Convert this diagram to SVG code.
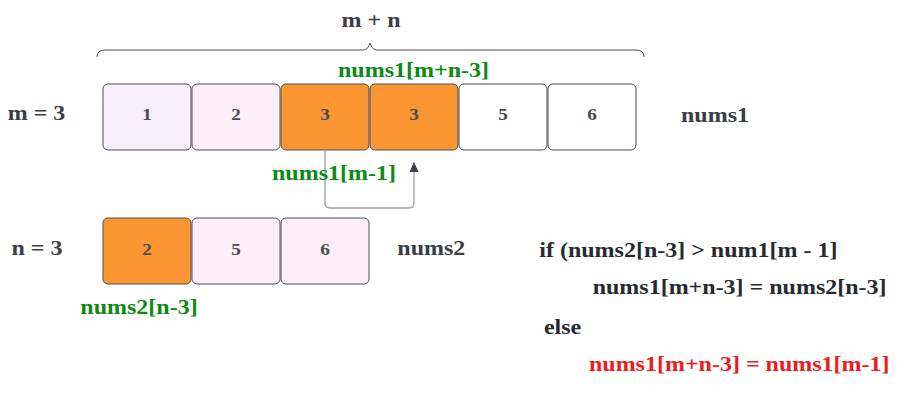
<svg xmlns="http://www.w3.org/2000/svg" width="908" height="401" viewBox="0 0 908 401">
<defs>
<style>
text{font-family:"Liberation Serif","Times New Roman",serif;font-weight:bold;}
.lbl{font-size:20px;fill:#3a3e45;text-anchor:middle;}
.code{font-size:20px;fill:#272b31;}
.green{font-size:20px;fill:#0c8a12;text-anchor:middle;}
.red{font-size:20px;fill:#ee1c1c;}
.dig{font-size:16px;fill:#474c55;text-anchor:middle;}
.cell{stroke:#4a4f57;stroke-width:1;}
.purple{fill:#f8eefc;}
.pink{fill:#fdeef8;}
.orange{fill:#fb9633;}
.white{fill:#ffffff;}
.conn{fill:none;stroke:#9a9da3;stroke-width:1.3;}
</style>
<marker id="arr" markerUnits="userSpaceOnUse" markerWidth="10" markerHeight="12" refX="11" refY="5" orient="auto" viewBox="0 0 11 10">
<path d="M0,0 L11,5 L0,10 Z" fill="#3a414a"/>
</marker>
</defs>
<rect width="908" height="401" fill="#ffffff"/>

<g id="brace">
<path d="M97,57 Q97,50 105,50 H363 Q368,50 370,43 Q372,50 377,50 H636 Q644,50 644,57" fill="none" stroke="#4a4f57" stroke-width="1"/>
<text class="lbl" x="309.17" y="27" transform="scale(1.2 1)">m + n</text>
</g>

<g id="label-m">
<text class="lbl" x="30.42" y="120" transform="scale(1.2 1)">m = 3</text>
</g>
<g id="label-nums1">
<text class="lbl" x="595.83" y="122" transform="scale(1.2 1)">nums1</text>
</g>
<g id="label-target">
<text class="green" x="344.58" y="77" transform="scale(1.2 1)">nums1[m+n-3]</text>
</g>

<g id="nums1-0"><rect class="cell purple" x="103" y="84" width="88" height="66" rx="5"/><text class="dig" x="122.5" y="120" transform="scale(1.2 1)">1</text></g>
<g id="nums1-1"><rect class="cell pink" x="192" y="84" width="88" height="66" rx="5"/><text class="dig" x="196.67" y="120" transform="scale(1.2 1)">2</text></g>
<g id="nums1-2"><rect class="cell orange" x="281" y="84" width="88" height="66" rx="5"/><text class="dig" x="270.83" y="120" transform="scale(1.2 1)">3</text></g>
<g id="nums1-3"><rect class="cell orange" x="370" y="84" width="88" height="66" rx="5"/><text class="dig" x="345" y="120" transform="scale(1.2 1)">3</text></g>
<g id="nums1-4"><rect class="cell white" x="459" y="84" width="88" height="66" rx="5"/><text class="dig" x="419.17" y="120" transform="scale(1.2 1)">5</text></g>
<g id="nums1-5"><rect class="cell white" x="548" y="84" width="88" height="66" rx="5"/><text class="dig" x="493.33" y="120" transform="scale(1.2 1)">6</text></g>

<g id="connectors">
<path class="conn" d="M325,150 V203 Q325,208 330,208 H409 Q414,208 414,203 V162" marker-end="url(#arr)"/>
</g>

<g id="label-src">
<text class="green" x="278.33" y="180" transform="scale(1.2 1)">nums1[m-1]</text>
</g>

<g id="label-n">
<text class="lbl" x="30.83" y="255" transform="scale(1.2 1)">n = 3</text>
</g>
<g id="label-nums2">
<text class="lbl" x="359.42" y="255" transform="scale(1.2 1)">nums2</text>
</g>

<g id="nums2-0"><rect class="cell orange" x="103" y="218" width="88" height="66" rx="5"/><text class="dig" x="122.5" y="255" transform="scale(1.2 1)">2</text></g>
<g id="nums2-1"><rect class="cell pink" x="192" y="218" width="88" height="66" rx="5"/><text class="dig" x="196.67" y="255" transform="scale(1.2 1)">5</text></g>
<g id="nums2-2"><rect class="cell pink" x="281" y="218" width="88" height="66" rx="5"/><text class="dig" x="270.83" y="255" transform="scale(1.2 1)">6</text></g>

<g id="label-nums2-idx">
<text class="green" x="115.83" y="314" transform="scale(1.2 1)">nums2[n-3]</text>
</g>

<g id="code">
<text class="code" x="449.4" y="257" transform="scale(1.2 1)">if (nums2[n-3] &gt; num1[m - 1]</text>
<text class="code" x="493.9" y="294" transform="scale(1.2 1)">nums1[m+n-3] = nums2[n-3]</text>
<text class="code" x="453.3" y="334" transform="scale(1.2 1)">else</text>
<text class="red" x="490.8" y="371.5" transform="scale(1.2 1)">nums1[m+n-3] = nums1[m-1]</text>
</g>
</svg>
